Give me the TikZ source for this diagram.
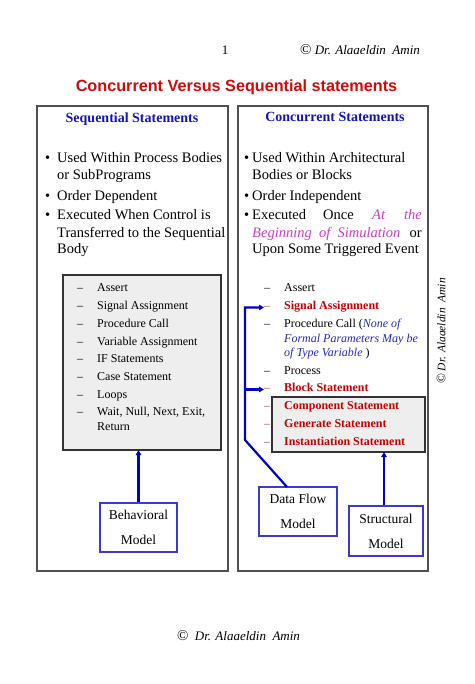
\documentclass[tikz,border=0pt]{standalone}
\usepackage{fontspec}
\setmainfont{Liberation Serif}
\newfontfamily\arialf{Liberation Sans}
\usetikzlibrary{arrows.meta}
\definecolor{titlered}{RGB}{210,10,10}
\definecolor{itemred}{RGB}{200,0,0}
\definecolor{dashred}{RGB}{170,70,70}
\definecolor{headblue}{RGB}{20,20,190}
\definecolor{itblue}{RGB}{40,40,190}
\definecolor{magent}{RGB}{205,60,195}
\definecolor{connblue}{RGB}{0,0,200}
\definecolor{boxblue}{RGB}{60,60,200}
\definecolor{panelgray}{RGB}{80,80,80}
\definecolor{grayfill}{RGB}{238,238,238}
\tikzset{
  panel/.style={draw=panelgray, line width=1.5pt},
  graybox/.style={draw=black!80, fill=grayfill, line width=1.1pt},
  modelbox/.style={draw=boxblue, line width=1.1pt, align=center, inner sep=0pt,
    font=\fontsize{13.5}{25}\selectfont},
  bodytxt/.style={anchor=base west, inner sep=0pt, font=\fontsize{14.5}{17}\selectfont},
  itemtxt/.style={anchor=base west, inner sep=0pt, font=\fontsize{12}{14}\selectfont},
  boldred/.style={itemtxt, text=itemred, font=\fontsize{12}{14}\selectfont\bfseries},
  dashtxt/.style={itemtxt},
  headtxt/.style={anchor=base, inner sep=0pt, text=headblue, font=\fontsize{14}{16}\selectfont\bfseries},
  conn/.style={draw=connblue, line width=2.2pt, -{Triangle[length=5pt,width=5.5pt]}},
  sign/.style={inner sep=0pt, font=\fontsize{13}{15}\selectfont}
}
\begin{document}
\begin{tikzpicture}[x=1pt,y=-1pt]
\useasboundingbox (0,0) rectangle (474,684);
\fill[white] (0,0) rectangle (474,684);

% header
\node[sign, anchor=base] (pg) at (225,55) {1};
\node[sign, anchor=base west] (top) at (300,55) {{\fontsize{15}{15}\selectfont\copyright}\ \textit{Dr. Alaaeldin\ \ Amin}};
\node[anchor=base, inner sep=0pt, text=titlered, font=\arialf\fontsize{16.2}{18}\selectfont\bfseries] (title) at (236.5,92) {Concurrent Versus Sequential statements};

% panels
\draw[panel] (37,106) rectangle (228,571);
\draw[panel] (238,106) rectangle (428,571);

\node[headtxt] (lh) at (132,122.5) {Sequential Statements};
\node[headtxt] (rh) at (335,122) {Concurrent Statements};

% left bullets
\node[bodytxt] (lb1) at (45,162.5) {•};
\node[bodytxt] (l1) at (57,162.5) {Used Within Process Bodies};
\node[bodytxt] (l2) at (57,180) {or SubPrograms};
\node[bodytxt] (lb2) at (45,200.5) {•};
\node[bodytxt] (l3) at (57,200.5) {Order Dependent};
\node[bodytxt] (lb3) at (45,219.5) {•};
\node[bodytxt] (l4) at (57,219.5) {Executed When Control is};
\node[bodytxt] (l5) at (57,237) {Transferred to the Sequential};
\node[bodytxt] (l6) at (57,254) {Body};

% right bullets
\node[bodytxt] (rb1) at (244,162.5) {•};
\node[bodytxt] (r1) at (252,162.5) {Used Within Architectural};
\node[bodytxt] (r2) at (252,180) {Bodies or Blocks};
\node[bodytxt] (rb2) at (244,200.5) {•};
\node[bodytxt] (r3) at (252,200.5) {Order Independent};
\node[bodytxt] (rb3) at (244,219.5) {•};
\node[bodytxt] (r4a) at (252,219.5) {Executed};
\node[bodytxt] (r4b) at (323,219.5) {Once};
\node[bodytxt, text=magent] (r4c) at (372,219.5) {\itshape At};
\node[bodytxt, text=magent, anchor=base east] (r4d) at (422,219.5) {\itshape the};
\node[bodytxt, text=magent] (r5a) at (252,237) {\itshape Beginning\ \ of\ \ Simulation};
\node[bodytxt, anchor=base east] (r5b) at (422,237) {or};
\node[bodytxt] (r6) at (252,254) {Upon Some Triggered Event};

% left gray list box
\draw[graybox] (63,275) rectangle (221,450);
\coordinate (lgs) at (137,450);
\foreach \yy/\tt [count=\i] in {291/Assert, 309/Signal Assignment, 327/Procedure Call, 345/Variable Assignment, 362/IF Statements, 380/Case Statement, 398/Loops, 415/{Wait, Null, Next, Exit,}} {
  \node[dashtxt] (ld\i) at (77,\yy) {–};
  \node[itemtxt] (li\i) at (97,\yy) {\tt};
}
\node[itemtxt] (li9) at (97,430) {Return};

% right gray box
\draw[graybox] (272,397) rectangle (425,452);

% right list
\node[dashtxt] (rd1) at (264,291) {–};
\node[itemtxt] (ri1) at (284,291) {Assert};
\node[dashtxt, text=dashred] (rd2) at (264,309) {–};
\node[boldred] (ri2) at (284,309) {Signal Assignment};
\node[dashtxt] (rd3) at (264,327) {–};
\node[itemtxt] (ri3) at (284,327) {Procedure Call (\textcolor{itblue}{\itshape None of}};
\node[itemtxt, text=itblue] (ri3b) at (284,342) {\itshape Formal Parameters May be};
\node[itemtxt] (ri3c) at (284,356.5) {\textcolor{itblue}{\itshape of Type Variable} )};
\node[dashtxt] (rd4) at (264,374) {–};
\node[itemtxt] (ri4) at (284,374) {Process};
\node[dashtxt, text=dashred] (rd5) at (264,391) {–};
\node[boldred] (ri5) at (284,391) {Block Statement};
\node[dashtxt, text=dashred] (rd6) at (264,409.5) {–};
\node[boldred] (ri6) at (284,409.5) {Component Statement};
\node[dashtxt, text=dashred] (rd7) at (264,427) {–};
\node[boldred] (ri7) at (284,427) {Generate Statement};
\node[dashtxt, text=dashred] (rd8) at (264,445) {–};
\node[boldred] (ri8) at (284,445) {Instantiation Statement};

% model boxes
\node[modelbox, minimum width=77pt, minimum height=49pt] (beh) at (138.5,527.5) {Behavioral\\Model};
\node[modelbox, minimum width=78pt, minimum height=49pt] (df) at (298,511.5) {Data Flow\\Model};
\node[modelbox, minimum width=74pt, minimum height=50pt] (st) at (386,531) {Structural\\Model};

% connectors
\draw[conn] (beh.north) -- (beh.north |- lgs);
\coordinate (dftop) at (287,487);
\coordinate (bend) at (245,440);
\draw[conn] (dftop) -- (bend) |- (rd2.west);
\draw[conn] (bend) |- (rd5.west);
\coordinate (rgs) at (384,452);
\draw[conn] (st.north -| rgs) -- (rgs);

% side and bottom signatures
\node[inner sep=0pt, rotate=90, font=\fontsize{11.5}{13}\selectfont] (side) at (441,331) {{\fontsize{13}{13}\selectfont\copyright}\ \textit{Dr. Alaaeldin\ \ Amin}};
\node[inner sep=0pt, font=\fontsize{13}{15}\selectfont] (bot) at (238.5,636) {{\fontsize{15}{15}\selectfont\copyright}\ \ \textit{Dr. Alaaeldin\ \ Amin}};
\end{tikzpicture}
\end{document}
